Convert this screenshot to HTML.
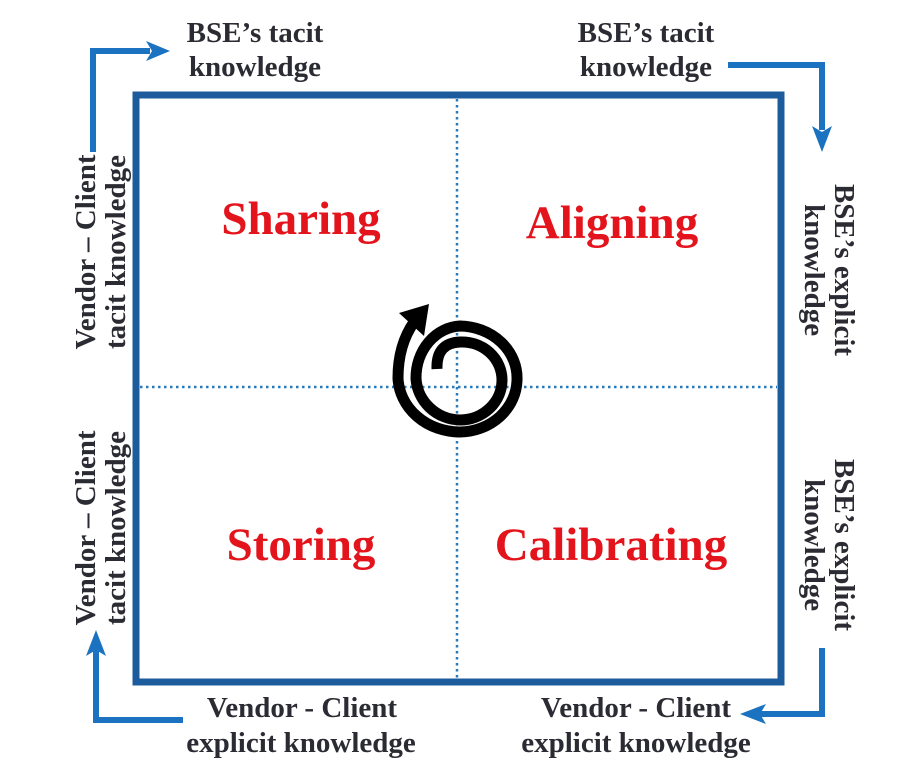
<!DOCTYPE html>
<html><head><meta charset="utf-8"><style>
html,body{margin:0;padding:0;background:#fff;}
svg{display:block;}
.l{font-family:"Liberation Serif",serif;font-weight:bold;font-size:29px;fill:#2b2b33;}
.q{font-family:"Liberation Serif",serif;font-weight:bold;font-size:47px;fill:#e3141c;}
</style></head><body>
<svg width="919" height="782" viewBox="0 0 919 782" xmlns="http://www.w3.org/2000/svg">
<rect x="136" y="95" width="645" height="587" fill="none" stroke="#1d5c9c" stroke-width="7"/>
<line x1="457" y1="99" x2="457" y2="678" stroke="#2a7ab8" stroke-width="2.5" stroke-dasharray="2.5,3.5"/>
<line x1="140" y1="387" x2="777" y2="387" stroke="#2a7ab8" stroke-width="2.5" stroke-dasharray="2.5,3.5"/>
<text class="q" x="301" y="234" text-anchor="middle">Sharing</text>
<text class="q" x="612" y="238" text-anchor="middle">Aligning</text>
<text class="q" x="301" y="560" text-anchor="middle">Storing</text>
<text class="q" x="611" y="560" text-anchor="middle">Calibrating</text>
<g fill="none" stroke="#1a72c0" stroke-width="6" stroke-linejoin="miter">
<polyline points="93,152 93,51 150,51"/>
<polyline points="728,65 822,65 822,130"/>
<polyline points="822,648 822,714 760,714"/>
<polyline points="183,720 96,720 96,650"/>
</g>
<g fill="#1a72c0">
<polygon points="170,51 146,41 152,51 146,61"/>
<polygon points="822,152 812,126 822,132 832,126"/>
<polygon points="740,714 766,704 760,714 766,724"/>
<polygon points="96,630 86,656 96,650 106,656"/>
</g>
<text class="l" x="255" y="42" text-anchor="middle">BSE’s tacit</text>
<text class="l" x="255" y="76" text-anchor="middle">knowledge</text>
<text class="l" x="646" y="42" text-anchor="middle">BSE’s tacit</text>
<text class="l" x="646" y="76" text-anchor="middle">knowledge</text>
<text class="l" x="302" y="717" text-anchor="middle">Vendor - Client</text>
<text class="l" x="301" y="752" text-anchor="middle">explicit knowledge</text>
<text class="l" x="636" y="717" text-anchor="middle">Vendor - Client</text>
<text class="l" x="636" y="752" text-anchor="middle">explicit knowledge</text>
<g transform="translate(85,252) rotate(-90)"><text class="l" x="0" y="10" text-anchor="middle">Vendor – Client</text></g>
<g transform="translate(115,252) rotate(-90)"><text class="l" x="0" y="10" text-anchor="middle">tacit knowledge</text></g>
<g transform="translate(85,528) rotate(-90)"><text class="l" x="0" y="10" text-anchor="middle">Vendor – Client</text></g>
<g transform="translate(115,528) rotate(-90)"><text class="l" x="0" y="10" text-anchor="middle">tacit knowledge</text></g>
<g transform="translate(845,270) rotate(90)"><text class="l" x="0" y="10" text-anchor="middle">BSE’s explicit</text></g>
<g transform="translate(815,270) rotate(90)"><text class="l" x="0" y="10" text-anchor="middle">knowledge</text></g>
<g transform="translate(845,545) rotate(90)"><text class="l" x="0" y="10" text-anchor="middle">BSE’s explicit</text></g>
<g transform="translate(815,545) rotate(90)"><text class="l" x="0" y="10" text-anchor="middle">knowledge</text></g>
<path d="M437,369 Q436,343 460,342 A40,38 0 0 1 502,380 A42,40 0 0 1 460,420 A45,44 0 0 1 416,378 A46,52 0 0 1 460,326 A58,52 0 0 1 517,380 A58,53 0 0 1 460,432 A62,56 0 0 1 398,378 Q398,345 414,322" fill="none" stroke="#000" stroke-width="11"/>
<polygon points="429,304 399,313 424,336" fill="#000"/>
</svg>
</body></html>
